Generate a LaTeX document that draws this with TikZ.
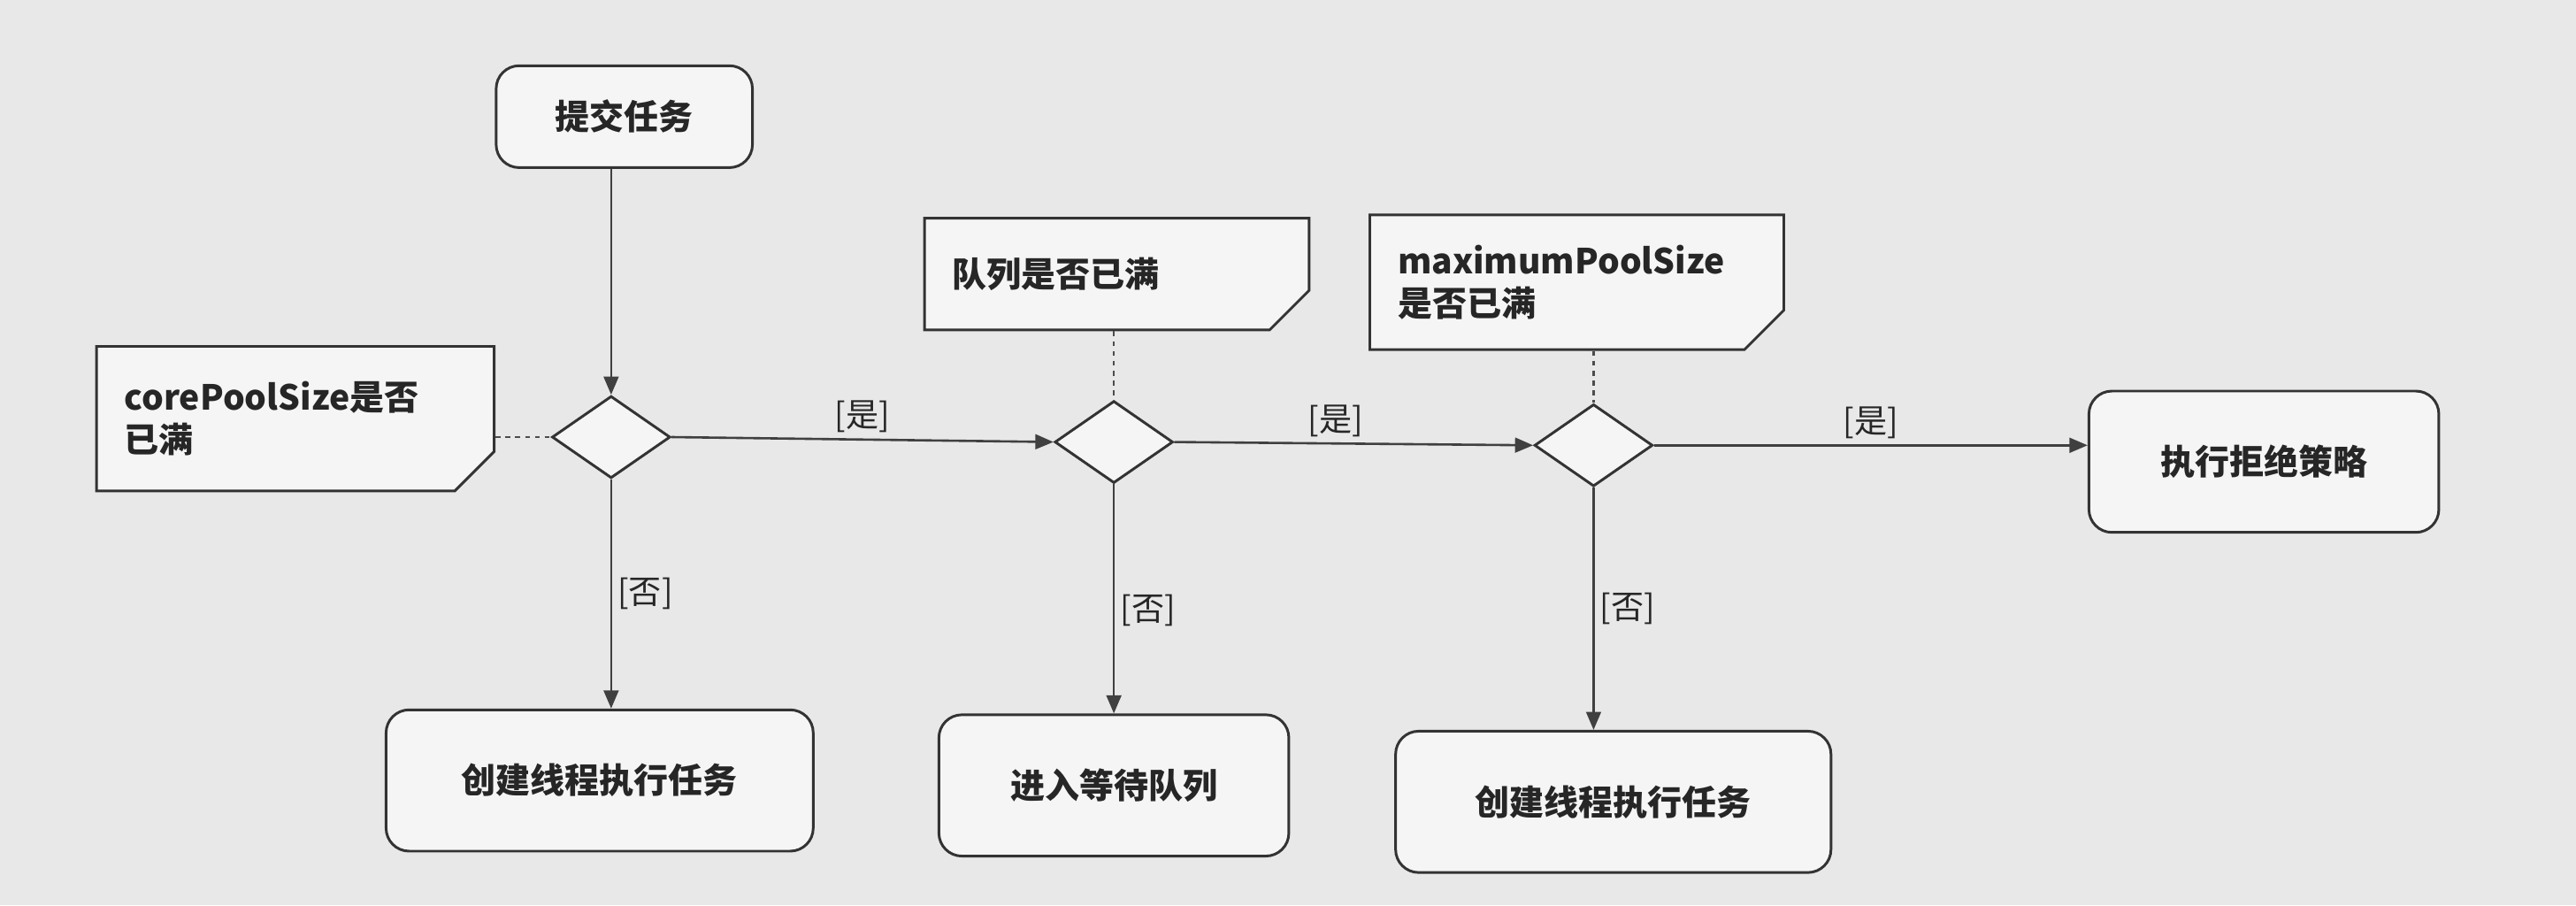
\documentclass[tikz,border=0pt]{standalone}
\usepackage{fontspec}
\setmainfont{Noto Sans CJK SC}
\usetikzlibrary{shapes.geometric,shapes.misc,arrows.meta}
\begin{document}
\begin{tikzpicture}[x=1pt,y=-1pt,
  every node/.style={font=\bfseries\fontsize{21}{26}\selectfont, text=black!85},
  rbox/.style={draw=black!80,line width=1.6pt,rounded corners=14pt,fill=white!92!gray,minimum height=62pt,align=center},
  dia/.style={draw=black!80,line width=1.6pt,diamond,fill=white!92!gray,minimum width=72pt,minimum height=50pt,inner sep=0pt,aspect=1.4},
  note/.style={draw=black!80,line width=1.6pt,chamfered rectangle,chamfered rectangle corners=south east,chamfered rectangle xsep=12pt,chamfered rectangle ysep=12pt,fill=white!92!gray,align=left,anchor=north west,text width=#1,minimum height=70pt,inner sep=5pt},
  arr/.style={-{Triangle[length=11pt,width=9pt]},draw=black!75,line width=1.4pt},
  dsh/.style={dashed,draw=black!70,line width=1.4pt},
  lab/.style={font=\fontsize{20}{24}\selectfont}]
\fill[gray!18] (0,0) rectangle (1568,551);
\useasboundingbox (0,0) rectangle (1568,551);
\node[rbox,minimum width=156pt] (start) at (380,71) {提交任务};
\node[dia] (d1) at (372,266) {};
\node[dia] (d2) at (678,269) {};
\node[dia] (d3) at (970,271) {};
\node[note=208pt,minimum height=88pt] (n1) at (58,210) {corePoolSize是否\\已满};
\node[note=200pt,minimum height=68pt] (n2) at (562,132) {队列是否已满};
\node[note=218pt,minimum height=82pt] (n3) at (833,130) {maximumPoolSize\\是否已满};
\node[rbox,minimum width=213pt,minimum height=86pt] (rej) at (1378,281) {执行拒绝策略};
\node[rbox,minimum width=260pt,minimum height=86pt] (b1) at (365,475) {创建线程执行任务};
\node[rbox,minimum width=213pt,minimum height=86pt] (b2) at (678,478) {进入等待队列};
\node[rbox,minimum width=265pt,minimum height=86pt] (b3) at (982,488) {创建线程执行任务};
\draw[arr] (start.south -| d1.north) -- (d1.north);
\draw[dsh] (n1.east |- d1) -- (d1.west);
\draw[dsh] (n2.south -| d2) -- (d2.north);
\draw[dsh] (n3.south -| d3) -- (d3.north);
\draw[arr] (d1.east) -- node[lab,above,pos=0.5] {[是]} (d2.west);
\draw[arr] (d2.east) -- node[lab,above,pos=0.45] {[是]} (d3.west);
\draw[arr] (d3.east) -- node[lab,above,pos=0.5] {[是]} (rej.west |- d3);
\draw[arr] (d1.south) -- node[lab,right,pos=0.5] {[否]} (b1.north -| d1);
\draw[arr] (d2.south) -- node[lab,right,pos=0.55] {[否]} (b2.north -| d2);
\draw[arr] (d3.south) -- node[lab,right,pos=0.5] {[否]} (b3.north -| d3);
\end{tikzpicture}
\end{document}
